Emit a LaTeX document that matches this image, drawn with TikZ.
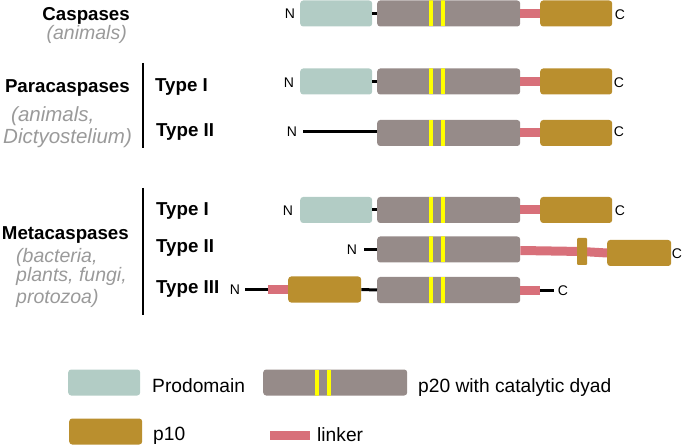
\documentclass[tikz,border=0pt]{standalone}
\usepackage{fontspec}
\setmainfont{Liberation Sans}
\definecolor{procol}{HTML}{B2CCC5}
\definecolor{ptwcol}{HTML}{968B89}
\definecolor{ptencol}{HTML}{BA8F2E}
\definecolor{linkcol}{HTML}{D8707A}
\definecolor{dyadcol}{HTML}{FFFF00}
\definecolor{graytext}{HTML}{9A9A9A}
\begin{document}
\begin{tikzpicture}[x=1pt,y=-1pt,
  dom/.style={rounded corners=3pt, inner sep=0pt, minimum height=26pt, anchor=west, draw=none},
  prodom/.style={dom, fill=procol, minimum width=72pt},
  ptwenty/.style={dom, fill=ptwcol, minimum width=143pt,
    path picture={
      \draw[dyadcol, line width=3.5pt] ([xshift=54pt]path picture bounding box.north west) -- ([xshift=54pt]path picture bounding box.south west);
      \draw[dyadcol, line width=3.5pt] ([xshift=66pt]path picture bounding box.north west) -- ([xshift=66pt]path picture bounding box.south west);
    }},
  pten/.style={dom, fill=ptencol, minimum width=72pt},
  linkr/.style={linkcol, line width=9pt},
  tether/.style={black, line width=3pt},
  term/.style={font=\fontsize{14}{16}\selectfont, inner sep=0pt},
  title/.style={font=\fontsize{18.7}{21}\selectfont\bfseries, inner sep=0pt, anchor=base east},
  typelab/.style={font=\fontsize{18.7}{21}\selectfont\bfseries, inner sep=0pt, anchor=base west},
  org/.style={text=graytext, inner sep=0pt, anchor=base west},
  orgA/.style={org, font=\fontsize{20.5}{23}\selectfont\itshape},
  orgB/.style={org, font=\fontsize{19.5}{23}\selectfont\itshape},
  legtext/.style={font=\fontsize{19.2}{22}\selectfont, inner sep=0pt, anchor=base west},
  bar/.style={black, line width=2.5pt}
]
\useasboundingbox (0,0) rectangle (685,446);

% ---------- left labels ----------
\node[title] (tcas) at (130,21) {Caspases};
\node[orgB, anchor=base east] (ocas) at (127,40) {(animals)};
\node[title] (tpara) at (130,93) {Paracaspases};
\node[orgA] (opara1) at (11,122) {(animals,};
\node[orgA] (opara2) at (3,144) {Dictyostelium)};
\node[title] (tmeta) at (129,240) {Metacaspases};
\node[orgB] (ometa1) at (16,263) {(bacteria,};
\node[orgB] (ometa2) at (16,281) {plants, fungi,};
\node[orgB] (ometa3) at (16,303) {protozoa)};

\coordinate (pb1) at (143,63);
\coordinate (pb2) at (143,148);
\draw[bar] (pb1) -- (pb2);
\coordinate (mb1) at (143,188);
\coordinate (mb2) at (143,315);
\draw[bar] (mb1) -- (mb2);

\node[typelab] (pty1) at (155,92) {Type I};
\node[typelab] (pty2) at (156,137) {Type II};
\node[typelab] (mty1) at (156,216) {Type I};
\node[typelab] (mty2) at (156,253) {Type II};
\node[typelab] (mty3) at (156,294) {Type III};

% ---------- Caspases ----------
\node[prodom] (pro1) at (300,13.5) {};
\node[ptwenty] (ptw1) at (377,13.5) {};
\node[pten] (pte1) at (540,13.5) {};
\node[term] (n1) at (290,14) {N};
\node[term] (c1) at (620,15) {C};
\draw[tether] (pro1.east) -- (ptw1.west);
\draw[linkr] (ptw1.east) -- (pte1.west);

% ---------- Paracaspase type I ----------
\node[prodom] (pro2) at (300,81.5) {};
\node[ptwenty] (ptw2) at (377,81.5) {};
\node[pten] (pte2) at (540,81.5) {};
\node[term] (n2) at (289,83) {N};
\node[term] (c2) at (619,83) {C};
\draw[tether] (pro2.east) -- (ptw2.west);
\draw[linkr] (ptw2.east) -- (pte2.west);

% ---------- Paracaspase type II ----------
\node[ptwenty] (ptw3) at (377,133) {};
\node[pten] (pte3) at (540,133) {};
\node[term] (n3) at (292,132) {N};
\node[term] (c3) at (619,132) {C};
\coordinate (t3) at (303,132);
\draw[tether] (t3) -- (t3 -| ptw3.west);
\draw[linkr] (ptw3.east) -- (pte3.west);

% ---------- Metacaspase type I ----------
\node[prodom] (pro4) at (300,210) {};
\node[ptwenty] (ptw4) at (377,210) {};
\node[pten] (pte4) at (540,210) {};
\node[term] (n4) at (288,211) {N};
\node[term] (c4) at (620,211) {C};
\draw[tether] (pro4.east) -- (ptw4.west);
\draw[linkr] (ptw4.east) -- (pte4.west);

% ---------- Metacaspase type II ----------
\node[ptwenty] (ptw5) at (377,249.5) {};
\node[dom, fill=ptencol, minimum width=64pt] (pte5) at (607,253) {};
\node[term] (n5) at (352,250) {N};
\node[term] (c5) at (677,254) {C};
\coordinate (t5) at (364,249.5);
\coordinate (mid5c) at (582,251.5);
\draw[tether] (t5) -- (ptw5.west);
\draw[linkr] ([yshift=-1pt]ptw5.east) -- (mid5c) -- (pte5.west);
\node[dom, fill=ptencol, minimum width=10pt, minimum height=27pt, rounded corners=1pt] (mid5) at (577,251.5) {};

% ---------- Metacaspase type III ----------
\node[dom, fill=ptencol, minimum width=73pt] (pte6) at (288,289.5) {};
\node[ptwenty] (ptw6) at (377,290) {};
\node[term] (n6) at (235,290) {N};
\node[term] (c6) at (563,291) {C};
\coordinate (t6a) at (245,289.5);
\coordinate (t6b) at (268,289.5);
\coordinate (t6c) at (540,290);
\coordinate (t6d) at (554,290);
\draw[tether] (t6a) -- (t6b);
\draw[linkr] (t6b) -- (pte6.west);
\draw[tether] (pte6.east) -- (ptw6.west);
\draw[linkr] (ptw6.east) -- (t6c);
\draw[tether] (t6c) -- (t6d);

% ---------- legend ----------
\node[prodom] (lpro) at (68,382.5) {};
\node[legtext] (lprot) at (152,392) {Prodomain};
\node[ptwenty, minimum width=144pt] (lptw) at (263,382.5) {};
\node[legtext] (lptwt) at (418,392) {p20 with catalytic dyad};
\node[pten, minimum width=73pt] (lpte) at (69,431.5) {};
\node[legtext] (lptet) at (153,440) {p10};
\coordinate (ll1) at (270,435.5);
\coordinate (ll2) at (310,435.5);
\draw[linkr] (ll1) -- (ll2);
\node[legtext] (llt) at (317,441) {linker};
\end{tikzpicture}
\end{document}
